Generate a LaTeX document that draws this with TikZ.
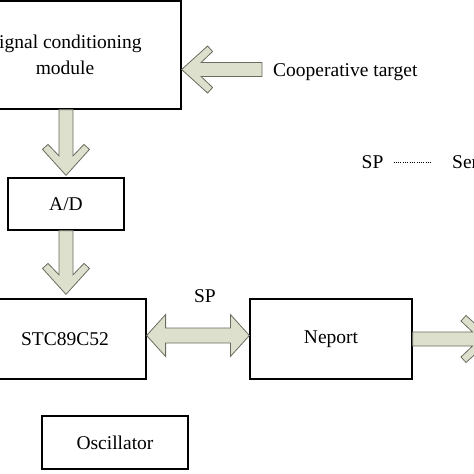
\documentclass[tikz,border=0pt]{standalone}
\usepackage{fontspec}
\setmainfont{Liberation Serif}
\usetikzlibrary{calc}
\definecolor{arrfill}{RGB}{221,224,204}
\definecolor{arrline}{RGB}{105,108,95}
\tikzset{
  blk/.style={draw, line width=1.2pt, inner sep=0pt, align=center},
  lbl/.style={inner sep=0pt},
  fatarrow/.style={fill=arrfill, draw=arrline, line width=0.8pt, line join=miter}
}
% chevron headed arrow: #1 tail, #2 tip
\newcommand{\chevarrow}[2]{%
  \draw[fatarrow] ($(#1)!7pt!-90:(#2)$) -- ($($(#2)!19.5pt!(#1)$)!7pt!90:(#1)$)
    -- ($($(#2)!31pt!(#1)$)!18pt!90:(#1)$) -- ($($(#2)!26pt!(#1)$)!23.5pt!90:(#1)$)
    -- (#2) -- ($($(#2)!26pt!(#1)$)!23.5pt!-90:(#1)$)
    -- ($($(#2)!31pt!(#1)$)!18pt!-90:(#1)$) -- ($($(#2)!19.5pt!(#1)$)!7pt!-90:(#1)$)
    -- ($(#1)!7pt!90:(#2)$) -- cycle;}
% two headed arrow between #1 and #2
\newcommand{\dblarrow}[2]{%
  \draw[fatarrow] (#1) -- ($($(#1)!19pt!(#2)$)!21pt!90:(#2)$)
    -- ($($(#1)!19pt!(#2)$)!7.5pt!90:(#2)$) -- ($($(#2)!19pt!(#1)$)!7.5pt!-90:(#1)$)
    -- ($($(#2)!19pt!(#1)$)!21pt!-90:(#1)$) -- (#2)
    -- ($($(#2)!19pt!(#1)$)!21pt!90:(#1)$) -- ($($(#2)!19pt!(#1)$)!7.5pt!90:(#1)$)
    -- ($($(#1)!19pt!(#2)$)!7.5pt!-90:(#2)$) -- ($($(#1)!19pt!(#2)$)!21pt!-90:(#2)$) -- cycle;}

\begin{document}
\begin{tikzpicture}[x=1pt, y=-1pt, font=\fontsize{19.5}{26}\selectfont]
  \useasboundingbox (0,0) rectangle (474,474);
  \clip (0,0) rectangle (474,474);

  % blocks
  \node[blk, minimum width=232pt, minimum height=108pt] (sig) at (65,55) {Signal conditioning\\module};
  \node[blk, minimum width=116pt, minimum height=52pt] (ad) at (66,204) {A/D};
  \node[blk, minimum width=162pt, minimum height=80pt] (stc) at (65,339) {STC89C52};
  \node[blk, minimum width=162pt, minimum height=80pt] (nep) at (331,339) {Neport};
  \node[blk, minimum width=146pt, minimum height=53pt] (osc) at (115,442.5) {Oscillator};

  % labels
  \node[lbl, anchor=west] (coop) at (273,72.5) {Cooperative target};
  \node[lbl] (splink) at (205,296.5) {SP};
  \node[lbl] (spkey) at (372.5,162.5) {SP};
  \node[lbl, anchor=west] (serkey) at (452,162.5) {Ser};
  \draw[line width=0.9pt, dash pattern=on 0.9pt off 1.4pt, shorten <=10pt, shorten >=20pt] (spkey.east) -- (serkey.west);

  % arrows
  \coordinate (cooptail) at (262,69.5);
  \coordinate (cooptip) at (sig.east |- cooptail);
  \chevarrow{cooptail}{cooptip}
  \coordinate (sigout) at (sig.south -| ad.north);
  \coordinate (adin) at ($(ad.north)+(0,-2)$);
  \chevarrow{sigout}{adin}
  \coordinate (stcin) at ($(ad.south |- stc.north)+(0,-4)$);
  \chevarrow{ad.south}{stcin}
  \coordinate (stcport) at ($(stc.east)+(0,-3.5)$);
  \coordinate (nepport) at ($(nep.west)+(0,-3.5)$);
  \dblarrow{stcport}{nepport}
  \coordinate (nepout) at (492,339);
  \chevarrow{nep.east}{nepout}
\end{tikzpicture}
\end{document}
